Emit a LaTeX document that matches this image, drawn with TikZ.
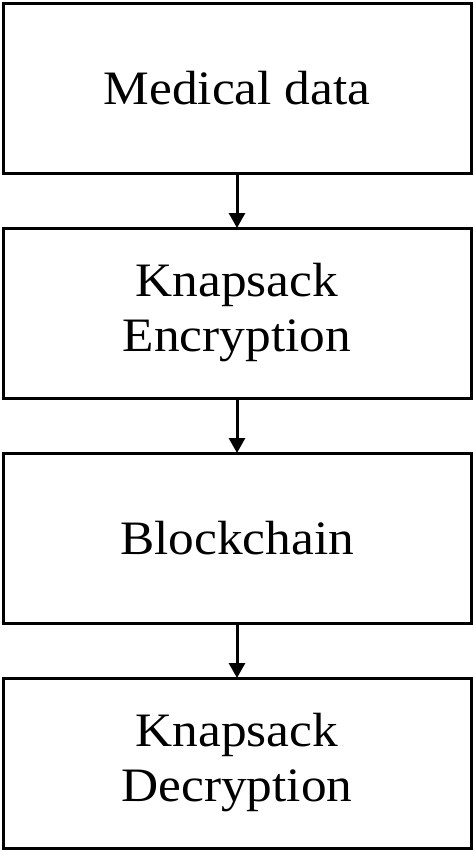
\documentclass[tikz,border=0pt]{standalone}
\usepackage{fontspec}
\setmainfont{Liberation Serif}[FakeStretch=1.07]
\usetikzlibrary{arrows.meta,positioning}

\begin{document}
\begin{tikzpicture}[->,>={Triangle[length=15pt,width=16pt]},line width=3pt,
                    node distance=55pt]
  \tikzstyle{block}=[draw,rectangle,outer sep=0pt,minimum width=468pt,
                     minimum height=170pt,align=center,
                     font=\fontsize{48}{55}\selectfont]
  \useasboundingbox (0pt,0pt) rectangle (474pt,-852pt);

  \node[block] (data) at (237pt,-88pt) {Medical data};
  \node[block] (enc)  [below=of data]  {Knapsack\\Encryption};
  \node[block] (chain) [below=of enc]  {Blockchain};
  \node[block] (dec)  [below=of chain] {Knapsack\\Decryption};

  \path (data)  edge (enc)
        (enc)   edge (chain)
        (chain) edge (dec);
\end{tikzpicture}
\end{document}
